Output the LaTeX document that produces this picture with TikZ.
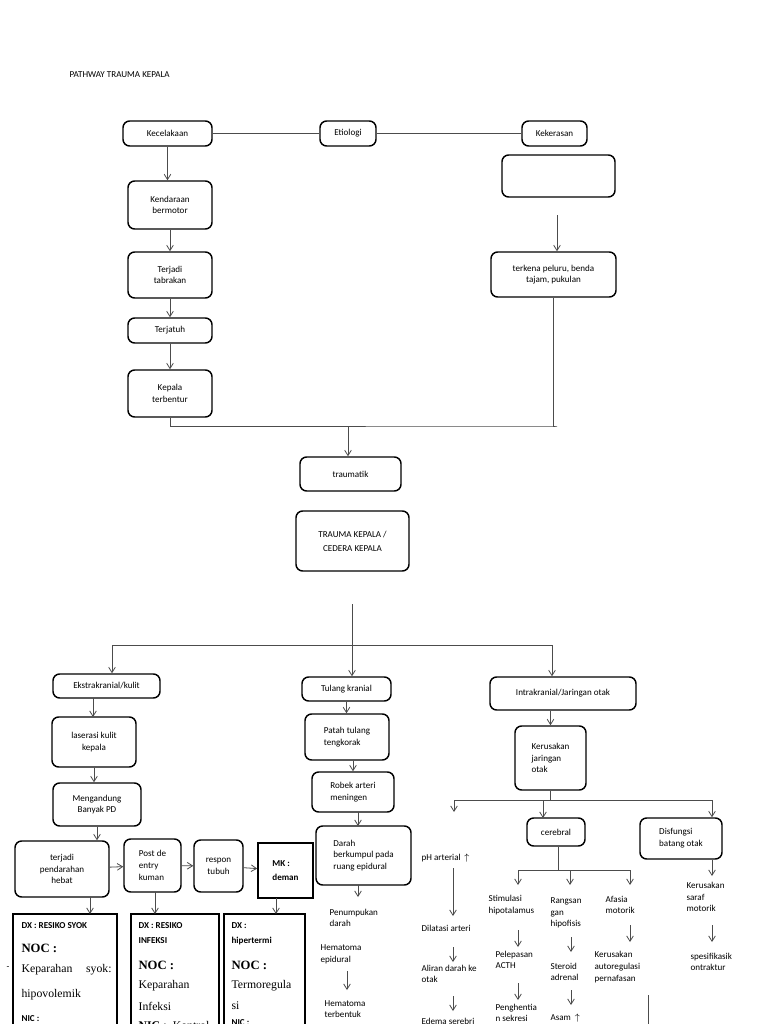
\documentclass[tikz,border=0pt]{standalone}
\usepackage{fontspec}
\setmainfont{Carlito}
\newfontfamily\serifnoc{Liberation Serif}
\usetikzlibrary{arrows.meta}
\begin{document}
\begin{tikzpicture}[x=0.75pt,y=-0.75pt,
  every node/.style={font=\fontsize{6.8}{8.8}\selectfont, inner sep=1pt},
  rbox/.style={draw, line width=1.1pt, rounded corners=5pt, align=center},
  sbox/.style={draw, line width=1.2pt, align=left},
  ln/.style={draw=black!70, line width=0.6pt},
  arr/.style={ln, -{Straight Barb[length=4pt,width=5pt]}},
  txt/.style={align=left, anchor=west},
  dxh/.style={anchor=west, font=\bfseries\fontsize{6.8}{8.8}\selectfont},
  noc/.style={anchor=west, font=\serifnoc\bfseries\fontsize{9.5}{11}\selectfont},
  nocv/.style={anchor=west, font=\serifnoc\fontsize{8.8}{11}\selectfont}]
\useasboundingbox (0,0) rectangle (768,1024);
\clip (0,0) rectangle (768,1024);
\fill[white] (0,0) rectangle (768,1024);
\node[anchor=west] (title) at (68,75) {PATHWAY TRAUMA KEPALA};
% top row
\node[rbox, minimum width=0.75*89pt, minimum height=0.75*25pt] (kec) at (167.5,133.5) {Kecelakaan};
\node[rbox, minimum width=0.75*56pt, minimum height=0.75*25pt] (eti) at (348,133.5) {Etiologi};
\node[rbox, minimum width=0.75*65pt, minimum height=0.75*25pt] (kek) at (554.5,133.5) {Kekerasan};
\draw[ln] (kec) -- (eti) -- (kek);
\node[rbox, minimum width=0.75*113pt, minimum height=0.75*42pt] (empty) at (558.5,176) {};
\node[rbox, minimum width=0.75*125pt, minimum height=0.75*45pt] (terk) at (553.5,274.5) {terkena peluru, benda\\tajam, pukulan};
\coordinate (ka) at (557,215);
\draw[arr] (ka) -- (ka |- terk.north);
% left chain
\node[rbox, minimum width=0.75*84pt, minimum height=0.75*48pt] (kend) at (170,205) {Kendaraan\\bermotor};
\node[rbox, minimum width=0.75*84pt, minimum height=0.75*46pt] (tab) at (170,275) {Terjadi\\tabrakan};
\node[rbox, minimum width=0.75*84pt, minimum height=0.75*25pt] (jat) at (170,330.5) {Terjatuh};
\node[rbox, minimum width=0.75*84pt, minimum height=0.75*47pt] (kep) at (170,393.5) {Kepala\\terbentur};
\draw[arr] (kec.south) -- (kec.south |- kend.north);
\draw[arr] (kend) -- (tab);
\draw[arr] (tab) -- (jat);
\draw[arr] (jat) -- (kep);
\node[rbox, minimum width=0.75*101pt, minimum height=0.75*34pt] (trm) at (350.5,474) {traumatik};
\node[rbox, minimum width=0.75*113pt, minimum height=0.75*60pt, font=\fontsize{6.8}{10.5}\selectfont] (tk) at (352.5,541) {TRAUMA KEPALA /\\CEDERA KEPALA};
\coordinate (j1) at (170,426);
\coordinate (j2) at (557,426);
\coordinate (j3) at (348,426);
\draw[ln] (kep.south) -- (j1) -- (j2) -- (terk.south |- j2) -- (terk.south);
\draw[arr] (j3) -- (j3 |- trm.north);
% split
\coordinate (s0) at (352,604);
\coordinate (s1) at (352,645);
\node[rbox, minimum width=0.75*107pt, minimum height=0.75*24pt] (ekst) at (106.5,686) {Ekstrakranial/kulit};
\node[rbox, minimum width=0.75*89pt, minimum height=0.75*24pt] (tul) at (346.5,689) {Tulang kranial};
\node[rbox, minimum width=0.75*146pt, minimum height=0.75*33pt] (intr) at (563,693.5) {Intrakranial/Jaringan otak};
\coordinate (sl) at (112,645);
\coordinate (sr) at (552,645);
\draw[ln] (s0) -- (s1);
\draw[ln] (sl) -- (sr);
\draw[arr] (sl) -- (sl |- ekst.north);
\draw[arr] (s1) -- (s1 |- tul.north);
\draw[arr] (sr) -- (sr |- intr.north);
% left branch
\node[rbox, minimum width=0.75*84pt, minimum height=0.75*50pt] (las) at (94,742) {laserasi kulit\\kepala};
\node[rbox, minimum width=0.75*88pt, minimum height=0.75*43pt] (men) at (97,804.5) {Mengandung\\Banyak PD};
\node[rbox, minimum width=0.75*94pt, minimum height=0.75*56pt] (pend) at (62,869) {terjadi\\pendarahan\\hebat};
\node[rbox, minimum width=0.75*57pt, minimum height=0.75*53pt, align=left] (post) at (152.5,865.5) {Post de\\entry\\kuman};
\node[rbox, minimum width=0.75*49pt, minimum height=0.75*52pt] (resp) at (218.5,866) {respon\\tubuh};
\node[sbox, minimum width=0.75*55pt, minimum height=0.75*55pt, font=\bfseries\fontsize{6.8}{10.5}\selectfont] (mk) at (285.5,870.5) {MK :\\deman};
\draw[arr] (93,698) -- (93,717);
\draw[arr] (las.south) -- (las.south |- men.north);
\draw[arr] (men.south) -- (men.south |- pend.north);
\draw[arr] (pend) -- (post);
\draw[arr] (post) -- (resp);
\draw[arr] (resp) -- (mk);
% DX boxes
\node[sbox, minimum width=0.75*104pt, minimum height=0.75*130pt] (dx1) at (65,979) {};
\node[sbox, minimum width=0.75*88pt, minimum height=0.75*130pt] (dx2) at (175,979) {};
\node[sbox, minimum width=0.75*81pt, minimum height=0.75*130pt] (dx3) at (264.5,979) {};
\draw[arr] (90,897) -- (90,914);
\draw[arr] (155,892) -- (155,914);
\draw[arr] (276,898) -- (276,914);
\node[dxh] (d1a) at (20,926) {DX : RESIKO SYOK};
\node[noc] (d1b) at (20,948) {NOC :};
\node[nocv, text width=0.75*90pt, align=justify] (d1c) at (20,970) {Keparahan\hfill syok:};
\node[nocv] (d1d) at (20,995) {hipovolemik};
\node[dxh] (d1e) at (20,1019) {NIC :};
\node[anchor=east] (dash) at (11,968) {-};
\node[dxh] (d2a) at (137,926) {DX : RESIKO};
\node[dxh] (d2b) at (137,941) {INFEKSI};
\node[noc] (d2c) at (137,965) {NOC :};
\node[nocv] (d2d) at (137,986) {Keparahan};
\node[nocv] (d2e) at (137,1006) {Infeksi};
\node[nocv] (d2f) at (137,1025) {\textbf{NIC :} \ Kontrol};
\node[dxh] (d3a) at (230,926) {DX :};
\node[dxh] (d3b) at (230,941) {hipertermi};
\node[noc] (d3c) at (230,965) {NOC :};
\node[nocv] (d3d) at (230,986) {Termoregula};
\node[nocv] (d3e) at (230,1006) {si};
\node[dxh] (d3f) at (230,1023) {NIC :};
% middle branch
\node[rbox, minimum width=0.75*84pt, minimum height=0.75*46pt, align=left] (pat) at (347,737) {Patah tulang\\tengkorak};
\node[rbox, minimum width=0.75*82pt, minimum height=0.75*40pt, align=left] (rob) at (353,792) {Robek arteri\\meningen};
\node[rbox, minimum width=0.75*95pt, minimum height=0.75*59pt, align=left] (dar) at (363.5,855.5) {Darah\\berkumpul pada\\ruang epidural};
\draw[arr] (tul.south) -- (tul.south |- pat.north);
\draw[arr] (pat.south -| rob.north) -- (rob.north);
\draw[arr] (358,812) -- (358,826);
\node[txt] (penu) at (328,918) {Penumpukan\\darah};
\node[txt] (hepi) at (319,954) {Hematoma\\epidural};
\node[txt] (hter) at (323,1009) {Hematoma\\terbentuk};
\draw[arr] (358,885) -- (358,897);
\draw[arr] (347,971) -- (347,990);
% right branch
\node[rbox, minimum width=0.75*71pt, minimum height=0.75*64pt, align=left] (kjo) at (550.5,758) {Kerusakan\\jaringan\\otak};
\draw[arr] (intr.south -| kjo.north) -- (kjo.north);
\coordinate (r0) at (550,800);
\coordinate (rl) at (454,800);
\coordinate (rr) at (712,800);
\node[rbox, minimum width=0.75*58pt, minimum height=0.75*28pt] (cer) at (556,832) {cerebral};
\node[rbox, minimum width=0.75*82pt, minimum height=0.75*41pt, align=left] (dis) at (681,838.5) {Disfungsi\\batang otak};
\draw[ln] (kjo.south -| r0) -- (r0);
\draw[ln] (rl) -- (rr);
\draw[arr] (rl) -- (454,812);
\draw[arr] (543,800) -- (543,818);
\draw[arr] (rr) -- (rr |- dis.north);
\node[txt] (ph) at (420,858) {pH arterial \,$\uparrow$};
\node[txt] (dil) at (420,928) {Dilatasi arteri};
\node[txt] (ali) at (420,974) {Aliran darah ke\\otak};
\node[txt] (ede) at (420,1021) {Edema serebri};
\draw[arr] (453,868) -- (453,916);
\draw[arr] (453,947) -- (453,962);
\draw[arr] (453,996) -- (453,1011);
\coordinate (c0) at (558,870);
\draw[ln] (cer.south -| c0) -- (c0);
\draw[ln] (518,870) -- (630,870);
\draw[arr] (518,870) -- (518,885);
\draw[arr] (570,870) -- (570,885);
\draw[arr] (630,870) -- (630,885);
\node[txt] (sti) at (487,905) {Stimulasi\\hipotalamus};
\node[txt] (ran) at (549,913) {Rangsan\\gan\\hipofisis};
\node[txt] (afa) at (604,905) {Afasia\\motorik};
\node[txt] (pel) at (494,960) {Pelepasan\\ACTH};
\node[txt] (ste) at (549,972) {Steroid\\adrenal};
\node[txt] (ker) at (593,967) {Kerusakan\\autoregulasi\\pernafasan};
\node[txt] (peng) at (494,1013) {Penghentia\\n sekresi};
\node[txt] (asam) at (549,1018) {Asam \,$\uparrow$};
\draw[arr] (518,930) -- (518,947);
\draw[arr] (518,983) -- (518,1000);
\draw[arr] (571,937) -- (571,952);
\draw[arr] (571,990) -- (571,1005);
\draw[arr] (630,925) -- (630,942);
\draw[ln] (648,995) -- (648,1024);
\node[txt] (ksm) at (685,897) {Kerusakan\\saraf\\motorik};
\node[txt] (spe) at (689,962) {spesifikasik\\ontraktur};
\draw[arr] (712,860) -- (712,876);
\draw[arr] (712,925) -- (712,942);
\end{tikzpicture}
\end{document}
